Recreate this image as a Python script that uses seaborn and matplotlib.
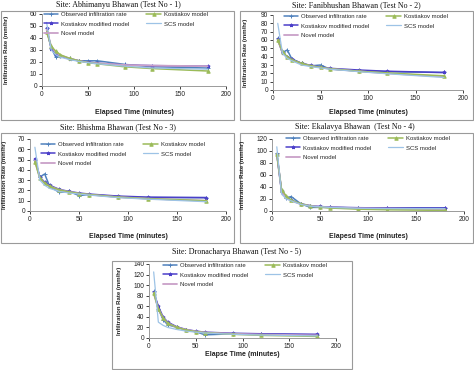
import matplotlib
matplotlib.use("Agg")
import matplotlib.pyplot as plt
import seaborn as sns
from matplotlib.patches import Rectangle

# ------------------------------
# Data
# ------------------------------
time_min = [5, 10, 15, 20, 30, 40, 50, 60, 90, 120, 180]

series_names = ["Observed infiltration rate", "Kostiakov model",
                "Kostiakov modified model", "SCS model", "Novel model"]

titles = ["Site: Abhimanyu Bhawan (Test No - 1)",
          "Site: Fanibhushan Bhawan (Test No - 2)",
          "Site: Bhishma Bhawan (Test No - 3)",
          "Site: Ekalavya Bhawan  (Test No - 4)",
          "Site: Dronacharya Bhawan (Test No - 5)"]

xlabels = ["Elapsed Time (minutes)", "Elapsed Time (minutes)",
           "Elapsed Time (minutes)", "Elapesd Time (minutes)",
           "Elapse Time (minutes)"]

ymax = [60, 90, 70, 120, 140]
ystep = [10, 10, 10, 20, 20]

# test 1
obs_1 = [48, 32, 24, 25, 23, 21, 21, 21, 18, 16, 15]
kos_1 = [45, 33, 29, 26, 23, 21, 19.5, 18.5, 16, 14.5, 12.5]
mod_1 = [48, 31, 27, 25, 22.5, 21, 20, 19, 17.5, 17, 16.5]
scs_1 = [53, 30, 26, 24, 22, 20.5, 19.5, 18.5, 16.5, 15, 14]
nov_1 = [47, 33, 28, 25.5, 23, 21, 19.5, 19, 17.5, 17, 16.5]

# test 2
obs_2 = [62, 45, 48, 37, 32, 29, 30, 25, 23, 22, 21]
kos_2 = [60, 46, 40, 36, 32, 29, 27, 25.5, 22.5, 20.5, 17]
mod_2 = [61, 44, 40, 37, 32, 29.5, 27.5, 26, 24, 22.5, 21]
scs_2 = [80, 44, 38, 35, 30, 28, 26.5, 25, 22, 19.5, 15]
nov_2 = [60, 45, 39, 36, 31.5, 29, 27, 25.5, 22.5, 20, 16]

# test 3
obs_3 = [50, 33, 36, 24, 18, 19, 15, 16, 14, 13, 13]
kos_3 = [48, 32, 27, 24, 20.5, 18.5, 17, 16, 13.5, 12, 10]
mod_3 = [51, 33, 28, 25, 21, 19, 17.5, 16.5, 14.5, 13.5, 13]
scs_3 = [62, 30, 25, 22, 19, 17.5, 16.5, 15.5, 13, 11.5, 9]
nov_3 = [49, 32, 27, 24, 20.5, 18.5, 17, 16, 13.5, 12, 10]

# test 4
obs_4 = [96, 32, 22, 24, 12, 6, 6, 6, 5, 5, 5]
kos_4 = [95, 35, 25, 18, 12, 8, 6.5, 5, 3, 2, 1]
mod_4 = [95, 33, 23, 18, 12, 9, 7.5, 6.5, 5.5, 5, 5]
scs_4 = [107, 28, 20, 17, 11, 8, 7, 6, 4.5, 4, 4]
nov_4 = [95, 33, 22, 17, 11.5, 8.5, 7, 6, 4.5, 4, 3]

# test 5
obs_5 = [88, 55, 35, 25, 20, 15, 12, 6, 8, 7, 6]
kos_5 = [85, 55, 38, 28, 20, 15, 12, 10, 7, 5, 3]
mod_5 = [87, 60, 40, 30, 21, 16, 13, 11, 9, 8, 7]
scs_5 = [125, 30, 24, 20, 16, 13, 11, 9.5, 7, 5.5, 4]
nov_5 = [85, 55, 38, 28, 20, 15.5, 12.5, 10.5, 8, 6.5, 5]

panel_data = [
    [obs_1, kos_1, mod_1, scs_1, nov_1],
    [obs_2, kos_2, mod_2, scs_2, nov_2],
    [obs_3, kos_3, mod_3, scs_3, nov_3],
    [obs_4, kos_4, mod_4, scs_4, nov_4],
    [obs_5, kos_5, mod_5, scs_5, nov_5],
]

colors = ["#4F81BD", "#9BBB59", "#4B3FC9", "#9DC3E6", "#C9A0C8"]
markers = ["+", "^", "*", None, None]
widths = [1.1, 1.1, 1.1, 0.9, 1.3]

# ------------------------------
# Layout in pixels (474 x 370)
# ------------------------------
W, H = 474, 370
# axes: x0, x1, ytop, ybottom
axes_px = [(42, 226, 14, 86), (273, 463, 15, 90), (30, 226, 139, 211),
           (272, 464, 139, 211), (149, 336, 264, 338)]
# frame boxes: x0, y0, x1, y1
box_px = [(1, 11, 234, 120), (240, 11, 473, 120), (1, 133, 234, 243),
          (240, 133, 473, 243), (112, 261, 352, 369)]
title_px = [(118, 5), (356, 5), (118, 127), (355, 127), (237, 252)]
ylab_x = [7, 245, 5, 243, 119]
xlab_y = [113, 113, 236, 236, 354]
leg_px = [(44, 12), (284, 14), (41, 142), (286, 136), (163, 263)]

sns.set_theme(style="white")
plt.rcParams['font.family'] = ['Liberation Sans', 'DejaVu Sans']

fig = plt.figure(figsize=(W / 100, H / 100), dpi=100)
fig.patch.set_facecolor("white")

for i in range(5):
    bx0, by0, bx1, by1 = box_px[i]
    fig.patches.append(Rectangle((bx0 / W, 1 - by1 / H), (bx1 - bx0) / W, (by1 - by0) / H,
                                 transform=fig.transFigure, fill=False,
                                 edgecolor="#9a9a9a", linewidth=0.8))

    x0, x1, yt, yb = axes_px[i]
    ax = fig.add_axes([x0 / W, 1 - yb / H, (x1 - x0) / W, (yb - yt) / H])

    vals = panel_data[i]
    order = [0, 2, 4, 1, 3]
    for k in order:
        sns.lineplot(x=time_min, y=vals[k], ax=ax, color=colors[k],
                     marker=markers[k], markersize=2.5, markeredgewidth=0.7,
                     markeredgecolor=colors[k], linewidth=widths[k],
                     label=series_names[k])

    ax.set_xlim(0, 200)
    ax.set_ylim(0, ymax[i])
    ax.set_xticks([0, 50, 100, 150, 200])
    ax.set_yticks(range(0, ymax[i] + 1, ystep[i]))
    ax.tick_params(labelsize=4.8, length=2, width=0.6, pad=1.5,
                   colors="#222222", direction="out", bottom=True, left=True)
    for s in ["top", "right"]:
        ax.spines[s].set_visible(False)
    for s in ["left", "bottom"]:
        ax.spines[s].set_color("#9a9a9a")
        ax.spines[s].set_linewidth(0.7)
    ax.set_xlabel("")
    ax.set_ylabel("")

    lx, ly = leg_px[i]
    lx_ax = (lx - x0) / (x1 - x0)
    ly_ax = (yb - ly) / (yb - yt)
    ax.legend(loc="upper left", bbox_to_anchor=(lx_ax, ly_ax), ncol=2,
              frameon=False, fontsize=4.3, handlelength=2.4, handletextpad=0.5,
              columnspacing=2.8, labelspacing=0.7, borderpad=0, borderaxespad=0)

    tx, ty = title_px[i]
    fig.text(tx / W, 1 - ty / H, titles[i], ha="center", va="center",
             fontsize=5.8, family="Liberation Serif", color="#111111")
    fig.text(ylab_x[i] / W, 1 - ((yt + yb) / 2) / H, "Infiltration Rate (mm/hr)",
             rotation=90, ha="center", va="center", fontsize=4.3,
             fontweight="bold", color="#222222")
    fig.text(((x0 + x1) / 2) / W, 1 - xlab_y[i] / H, xlabels[i],
             ha="center", va="center", fontsize=5, fontweight="bold",
             color="#222222")

fig.savefig("out.png", dpi=100)
